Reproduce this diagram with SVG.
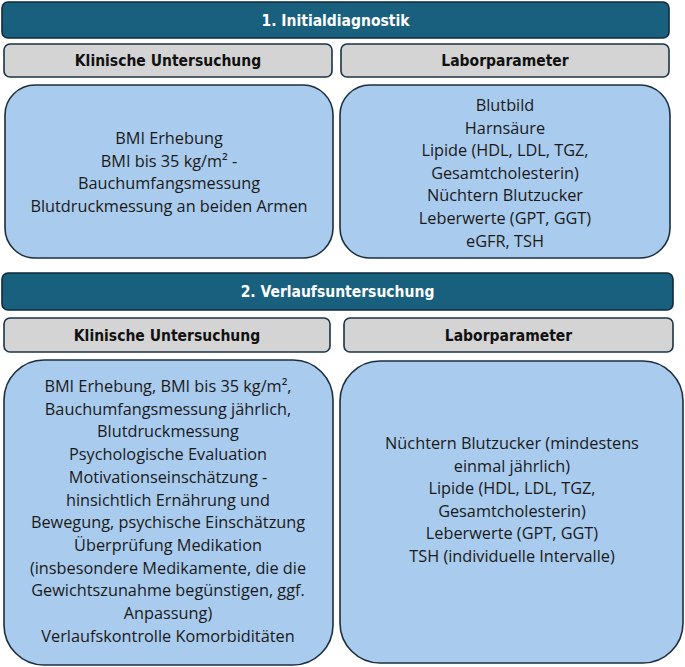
<svg xmlns="http://www.w3.org/2000/svg" width="685" height="667" viewBox="0 0 685 667">
<style>
.hdr{fill:#19607f;stroke:#0f2a3a;stroke-width:1.6}
.sub{fill:#d4d4d4;stroke:#1b3344;stroke-width:1.6}
.box{fill:#a9cbed;stroke:#1b2f3f;stroke-width:1.6}
.ht{font-family:"DejaVu Sans Condensed","DejaVu Sans",sans-serif;font-stretch:condensed;font-weight:bold;font-size:15.5px;fill:#ffffff;text-anchor:middle}
.st{font-family:"DejaVu Sans Condensed","DejaVu Sans",sans-serif;font-stretch:condensed;font-weight:bold;font-size:15.5px;fill:#111111;text-anchor:middle}
.bt{font-family:"Open Sans","Liberation Sans",sans-serif;font-size:16.3px;fill:#1a1a1a;text-anchor:middle}
</style>
<g id="header1">
<rect class="hdr" x="2" y="2" width="667" height="36" rx="6"/>
<text class="ht" x="335.5" y="25.5">1. Initialdiagnostik</text>
</g>
<g id="sub1-left">
<rect class="sub" x="4" y="44" width="328" height="33" rx="6"/>
<text class="st" x="168" y="66">Klinische Untersuchung</text>
</g>
<g id="sub1-right">
<rect class="sub" x="341" y="44" width="328" height="33" rx="6"/>
<text class="st" x="505" y="66">Laborparameter</text>
</g>
<g id="box1-left">
<rect class="box" x="5" y="85" width="328" height="173" rx="30"/>
<text class="bt" x="169" y="144">BMI Erhebung</text>
<text class="bt" x="169" y="166.5">BMI bis 35 kg/m² -</text>
<text class="bt" x="169" y="189">Bauchumfangsmessung</text>
<text class="bt" x="169" y="211.5">Blutdruckmessung an beiden Armen</text>
</g>
<g id="box1-right">
<rect class="box" x="340" y="85" width="330" height="173" rx="30"/>
<text class="bt" x="505" y="111">Blutbild</text>
<text class="bt" x="505" y="133.6">Harnsäure</text>
<text class="bt" x="505" y="156.2">Lipide (HDL, LDL, TGZ,</text>
<text class="bt" x="505" y="178.8">Gesamtcholesterin)</text>
<text class="bt" x="505" y="201.4">Nüchtern Blutzucker</text>
<text class="bt" x="505" y="224">Leberwerte (GPT, GGT)</text>
<text class="bt" x="505" y="246.6">eGFR, TSH</text>
</g>
<g id="header2">
<rect class="hdr" x="2" y="273" width="671" height="37" rx="6"/>
<text class="ht" x="337.5" y="297">2. Verlaufsuntersuchung</text>
</g>
<g id="sub2-left">
<rect class="sub" x="4" y="318" width="326" height="34" rx="6"/>
<text class="st" x="167" y="340.5">Klinische Untersuchung</text>
</g>
<g id="sub2-right">
<rect class="sub" x="344" y="318" width="329" height="34" rx="6"/>
<text class="st" x="508.5" y="340.5">Laborparameter</text>
</g>
<g id="box2-left">
<rect class="box" x="4" y="360" width="329" height="305" rx="40"/>
<text class="bt" x="168" y="392">BMI Erhebung, BMI bis 35 kg/m²,</text>
<text class="bt" x="168" y="414.7">Bauchumfangsmessung jährlich,</text>
<text class="bt" x="168" y="437.4">Blutdruckmessung</text>
<text class="bt" x="168" y="460.1">Psychologische Evaluation</text>
<text class="bt" x="168" y="482.8">Motivationseinschätzung -</text>
<text class="bt" x="168" y="505.5">hinsichtlich Ernährung und</text>
<text class="bt" x="168" y="528.2">Bewegung, psychische Einschätzung</text>
<text class="bt" x="168" y="550.9">Überprüfung Medikation</text>
<text class="bt" x="168" y="573.6">(insbesondere Medikamente, die die</text>
<text class="bt" x="168" y="596.3">Gewichtszunahme begünstigen, ggf.</text>
<text class="bt" x="168" y="619">Anpassung)</text>
<text class="bt" x="168" y="641.7">Verlaufskontrolle Komorbiditäten</text>
</g>
<g id="box2-right">
<rect class="box" x="340" y="361" width="343" height="302" rx="40"/>
<text class="bt" x="512" y="449">Nüchtern Blutzucker (mindestens</text>
<text class="bt" x="512" y="471.6">einmal jährlich)</text>
<text class="bt" x="512" y="494.2">Lipide (HDL, LDL, TGZ,</text>
<text class="bt" x="512" y="516.8">Gesamtcholesterin)</text>
<text class="bt" x="512" y="539.4">Leberwerte (GPT, GGT)</text>
<text class="bt" x="512" y="562">TSH (individuelle Intervalle)</text>
</g>
<g id="connectors"></g>
</svg>
